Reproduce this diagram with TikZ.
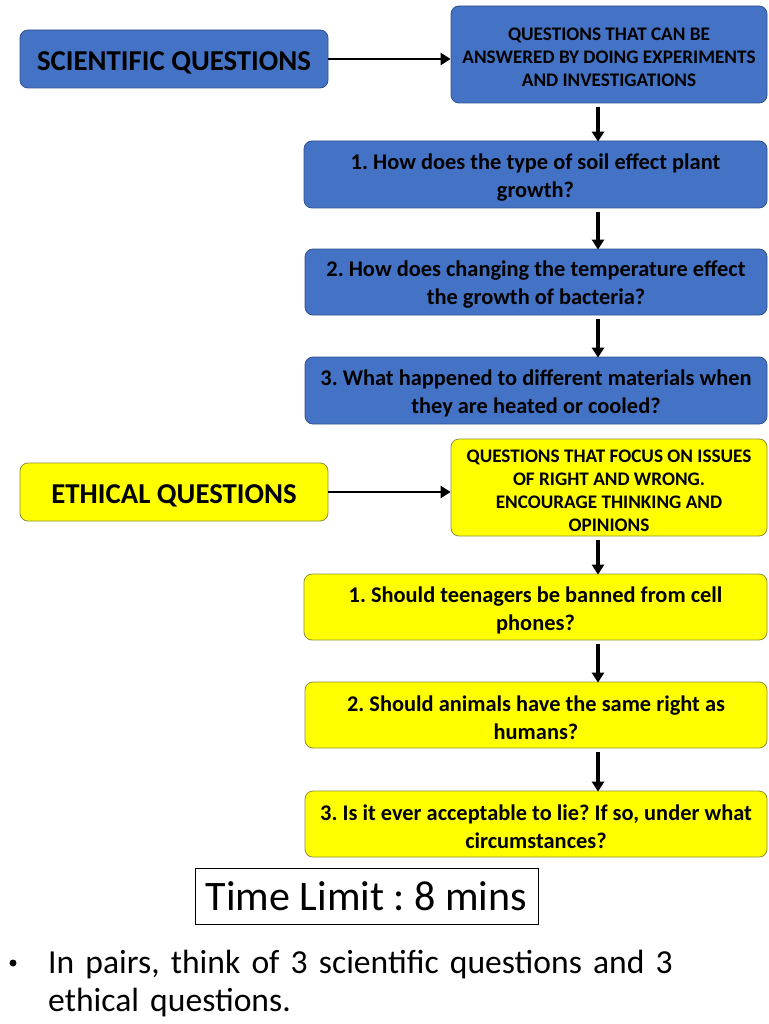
\documentclass[tikz,border=0pt]{standalone}
\usepackage{fontspec}
\setmainfont{Carlito}
\usetikzlibrary{arrows.meta}
\definecolor{bl}{HTML}{4472C4}
\definecolor{bld}{HTML}{2F528F}
\definecolor{yl}{HTML}{FFFF00}
\definecolor{yld}{HTML}{8F8F3A}
\tikzset{
 box/.style={rounded corners=8pt,draw,line width=0.8pt,inner sep=0pt},
 sbox/.style={box,fill=bl,draw=bld},
 ebox/.style={box,fill=yl,draw=yld},
 txt/.style={align=center,inner sep=0pt,font=\bfseries},
 arr/.style={draw=black,line width=3.5pt,-{Triangle[length=10pt,width=12pt]}}
}
\begin{document}
\frenchspacing
\begin{tikzpicture}[x=1pt,y=-1pt]
\useasboundingbox (0,0) rectangle (768,1024);
\def\qf{\bfseries\fontsize{22.4}{28}\selectfont}
\def\hf{\bfseries\fontsize{28.8}{30}\selectfont}
\def\df{\bfseries\fontsize{19.2}{23}\selectfont}
\node[sbox,minimum width=308pt,minimum height=58pt] (sq) at (174,59) {};
\node[txt,font=\hf] (sqt) at ([yshift=-4pt]sq.center) {SCIENTIFIC QUESTIONS};
\node[sbox,minimum width=316pt,minimum height=97pt] (sd) at (609,54.5) {};
\node[txt,font=\df] (sdt) at ([yshift=-2.5pt]sd.center) {QUESTIONS THAT CAN BE\\ANSWERED BY DOING EXPERIMENTS\\AND INVESTIGATIONS};
\node[sbox,minimum width=463pt,minimum height=67pt] (s1) at (535.5,174.5) {};
\node[txt,font=\qf] (s1t) at ([yshift=-3pt]s1.center) {1. How does the type of soil effect plant\\growth?};
\node[sbox,minimum width=462pt,minimum height=66pt] (s2) at (536,282) {};
\node[txt,font=\qf] (s2t) at ([yshift=-3pt]s2.center) {2. How does changing the temperature effect\\the growth of bacteria?};
\node[sbox,minimum width=462pt,minimum height=67pt] (s3) at (536,390.5) {};
\node[txt,font=\qf] (s3t) at ([yshift=-3pt]s3.center) {3. What happened to different materials when\\they are heated or cooled?};
\node[ebox,minimum width=308pt,minimum height=58pt] (eq) at (174,492) {};
\node[txt,font=\hf] (eqt) at ([yshift=-4pt]eq.center) {ETHICAL QUESTIONS};
\node[ebox,minimum width=316pt,minimum height=97pt] (ed) at (609,487.5) {};
\node[txt,font=\df] (edt) at ([yshift=-3pt]ed.center) {QUESTIONS THAT FOCUS ON ISSUES\\OF RIGHT AND WRONG.\\ENCOURAGE THINKING AND\\OPINIONS};
\node[ebox,minimum width=463pt,minimum height=66pt] (e1) at (535.5,607) {};
\node[txt,font=\qf] (e1t) at ([yshift=-3pt]e1.center) {1. Should teenagers be banned from cell\\phones?};
\node[ebox,minimum width=462pt,minimum height=66pt] (e2) at (536,715) {};
\node[txt,font=\qf] (e2t) at ([yshift=-3pt]e2.center) {2. Should animals have the same right as\\humans?};
\node[ebox,minimum width=462pt,minimum height=66pt] (e3) at (536,824) {};
\node[txt,font=\qf] (e3t) at ([yshift=-3pt]e3.center) {3. Is it ever acceptable to lie? If so, under what\\circumstances?};
\draw[arr,line width=2.5pt] (sq.east) -- (sd.west|-sq.east);
\draw[arr,line width=2.5pt] (eq.east) -- (ed.west|-eq.east);
\foreach \a/\b in {sd/s1,s1/s2,s2/s3,ed/e1,e1/e2,e2/e3}{
 \draw[arr] ([yshift=-4pt]\a.south-|598,0) -- ([yshift=-1pt]\b.north-|598,0);
}
\node[draw,line width=0.8pt,minimum width=343pt,minimum height=56pt,font=\fontsize{42}{46}\selectfont] (tl) at (366.5,896) {Time Limit : 8 mins};
\node[anchor=north west,text width=700pt,align=left,inner sep=0pt,font=\fontsize{33.6}{38}\selectfont] (bt) at (48,950) {In pairs, think of 3 scientific questions and 3\\ethical questions.};
\fill (13,963) circle (3.5pt);
\end{tikzpicture}
\end{document}
